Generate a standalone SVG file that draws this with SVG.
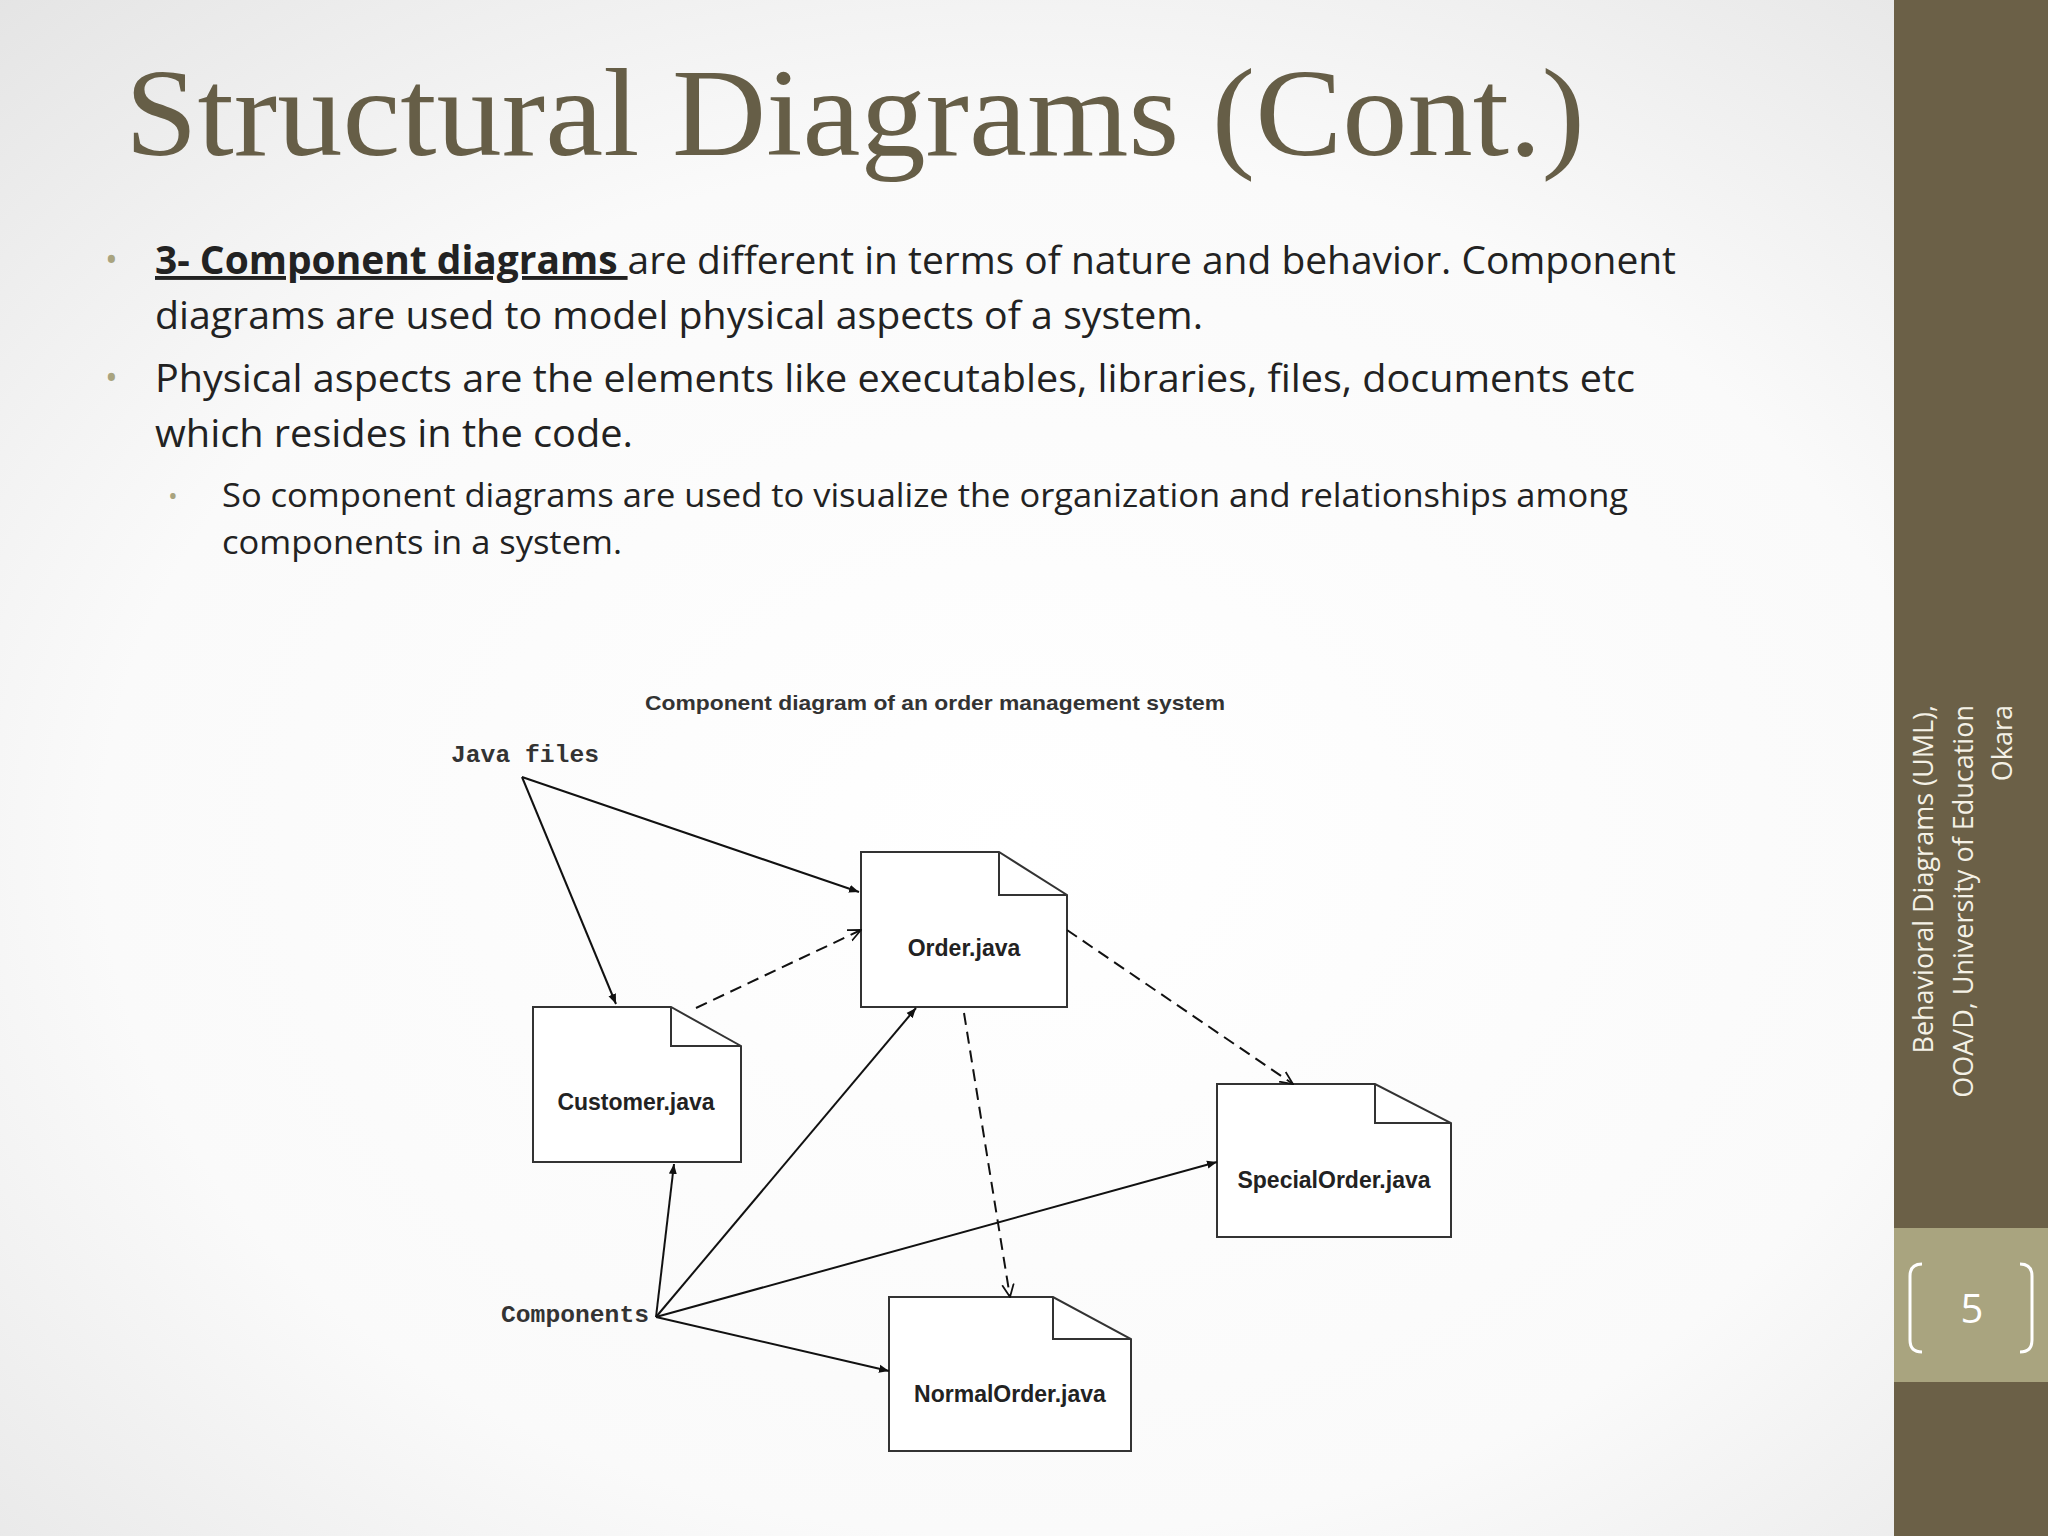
<svg xmlns="http://www.w3.org/2000/svg" width="2048" height="1536" viewBox="0 0 2048 1536">
<defs>
<radialGradient id="bg" cx="0.5" cy="0.55" r="0.75">
<stop offset="0" stop-color="#ffffff"/><stop offset="0.6" stop-color="#fafafa"/><stop offset="1" stop-color="#e4e4e4"/>
</radialGradient>
<marker id="fa" viewBox="0 0 10 10" refX="10" refY="5" markerWidth="10" markerHeight="10" orient="auto" markerUnits="userSpaceOnUse"><path d="M0,1 L10,5 L0,9 Z" fill="#111"/></marker>
<marker id="oa" viewBox="0 0 12 12" refX="11" refY="6" markerWidth="14" markerHeight="14" orient="auto" markerUnits="userSpaceOnUse"><path d="M0,1 L11,6 L0,11" fill="none" stroke="#111" stroke-width="1.5"/></marker>
</defs>
<style>
.body{font-family:"Open Sans","Liberation Sans",sans-serif;fill:#222}
.box{fill:#fff;stroke:#333;stroke-width:2}
.lbl{font-family:"Liberation Sans",sans-serif;font-weight:bold;font-size:23px;fill:#222;text-anchor:middle}
.mono{font-family:"Liberation Mono",monospace;font-weight:bold;font-size:24px;fill:#333}
.solid{stroke:#111;stroke-width:2;fill:none;marker-end:url(#fa)}
.dash{stroke:#111;stroke-width:2;fill:none;stroke-dasharray:12 7;marker-end:url(#oa)}
.side{font-family:"Open Sans","Liberation Sans",sans-serif;font-size:27px;fill:#f4f1e6;text-anchor:end}
</style>
<rect width="2048" height="1536" fill="url(#bg)"/>
<rect x="1894" y="0" width="154" height="1536" fill="#6b6047"/>
<rect x="1894" y="1228" width="154" height="154" fill="#a9a47f"/>
<path d="M1922,1264 Q1910,1264 1910,1276 L1910,1340 Q1910,1352 1922,1352" fill="none" stroke="#fff" stroke-width="3"/>
<path d="M2020,1264 Q2032,1264 2032,1276 L2032,1340 Q2032,1352 2020,1352" fill="none" stroke="#fff" stroke-width="3"/>
<text x="1972" y="1323" font-family="Open Sans,Liberation Sans,sans-serif" font-size="40" fill="#fff" text-anchor="middle">5</text>
<text class="side" transform="translate(1933,705) rotate(-90)">Behavioral Diagrams (UML),</text>
<text class="side" transform="translate(1973,705) rotate(-90)">OOA/D, University of Education</text>
<text class="side" transform="translate(2012,705) rotate(-90)">Okara</text>
<text x="125" y="155" font-family="Liberation Serif,serif" font-size="124" fill="#665e47" textLength="1460" lengthAdjust="spacingAndGlyphs">Structural Diagrams (Cont.)</text>
<g class="body">
<text x="105" y="272" font-size="34" fill="#a9a47f">•</text>
<text x="155" y="274" font-size="39" textLength="1521" lengthAdjust="spacingAndGlyphs"><tspan font-weight="bold" text-decoration="underline">3- Component diagrams </tspan>are different in terms of nature and behavior. Component</text>
<text x="155" y="329" font-size="39" textLength="1048" lengthAdjust="spacingAndGlyphs">diagrams are used to model physical aspects of a system.</text>
<text x="105" y="390" font-size="34" fill="#a9a47f">•</text>
<text x="155" y="392" font-size="39" textLength="1480" lengthAdjust="spacingAndGlyphs">Physical aspects are the elements like executables, libraries, files, documents etc</text>
<text x="155" y="447" font-size="39" textLength="478" lengthAdjust="spacingAndGlyphs">which resides in the code.</text>
<text x="168" y="505" font-size="26" fill="#a9a47f">•</text>
<text x="222" y="507" font-size="33" textLength="1406" lengthAdjust="spacingAndGlyphs">So component diagrams are used to visualize the organization and relationships among</text>
<text x="222" y="554" font-size="33" textLength="400" lengthAdjust="spacingAndGlyphs">components in a system.</text>
</g>
<text x="935" y="710" font-family="Liberation Sans,sans-serif" font-weight="bold" font-size="21" fill="#333" text-anchor="middle" textLength="580" lengthAdjust="spacingAndGlyphs">Component diagram of an order management system</text>
<text class="mono" x="451" y="762" textLength="148" lengthAdjust="spacingAndGlyphs">Java files</text>
<text class="mono" x="501" y="1322" textLength="148" lengthAdjust="spacingAndGlyphs">Components</text>
<g id="order"><path class="box" d="M861,852 L999,852 L1067,895 L1067,1007 L861,1007 Z"/><path d="M999,852 L999,895 L1067,895" fill="none" stroke="#333" stroke-width="2"/><text class="lbl" x="964" y="956">Order.java</text></g>
<g id="customer"><path class="box" d="M533,1007 L671,1007 L741,1046 L741,1162 L533,1162 Z"/><path d="M671,1007 L671,1046 L741,1046" fill="none" stroke="#333" stroke-width="2"/><text class="lbl" x="636" y="1110">Customer.java</text></g>
<g id="special"><path class="box" d="M1217,1084 L1375,1084 L1451,1123 L1451,1237 L1217,1237 Z"/><path d="M1375,1084 L1375,1123 L1451,1123" fill="none" stroke="#333" stroke-width="2"/><text class="lbl" x="1334" y="1188">SpecialOrder.java</text></g>
<g id="normal"><path class="box" d="M889,1297 L1053,1297 L1131,1339 L1131,1451 L889,1451 Z"/><path d="M1053,1297 L1053,1339 L1131,1339" fill="none" stroke="#333" stroke-width="2"/><text class="lbl" x="1010" y="1402">NormalOrder.java</text></g>
<g id="connectors">
<line class="solid" x1="522" y1="777" x2="859" y2="892"/>
<line class="solid" x1="522" y1="777" x2="616" y2="1004"/>
<line class="dash" x1="696" y1="1008" x2="861" y2="930"/>
<line class="dash" x1="1067" y1="930" x2="1293" y2="1084"/>
<line class="dash" x1="964" y1="1013" x2="1010" y2="1297"/>
<line class="solid" x1="656" y1="1317" x2="674" y2="1164"/>
<line class="solid" x1="656" y1="1317" x2="916" y2="1008"/>
<line class="solid" x1="656" y1="1317" x2="1217" y2="1162"/>
<line class="solid" x1="656" y1="1317" x2="889" y2="1371"/>
</g>
</svg>
